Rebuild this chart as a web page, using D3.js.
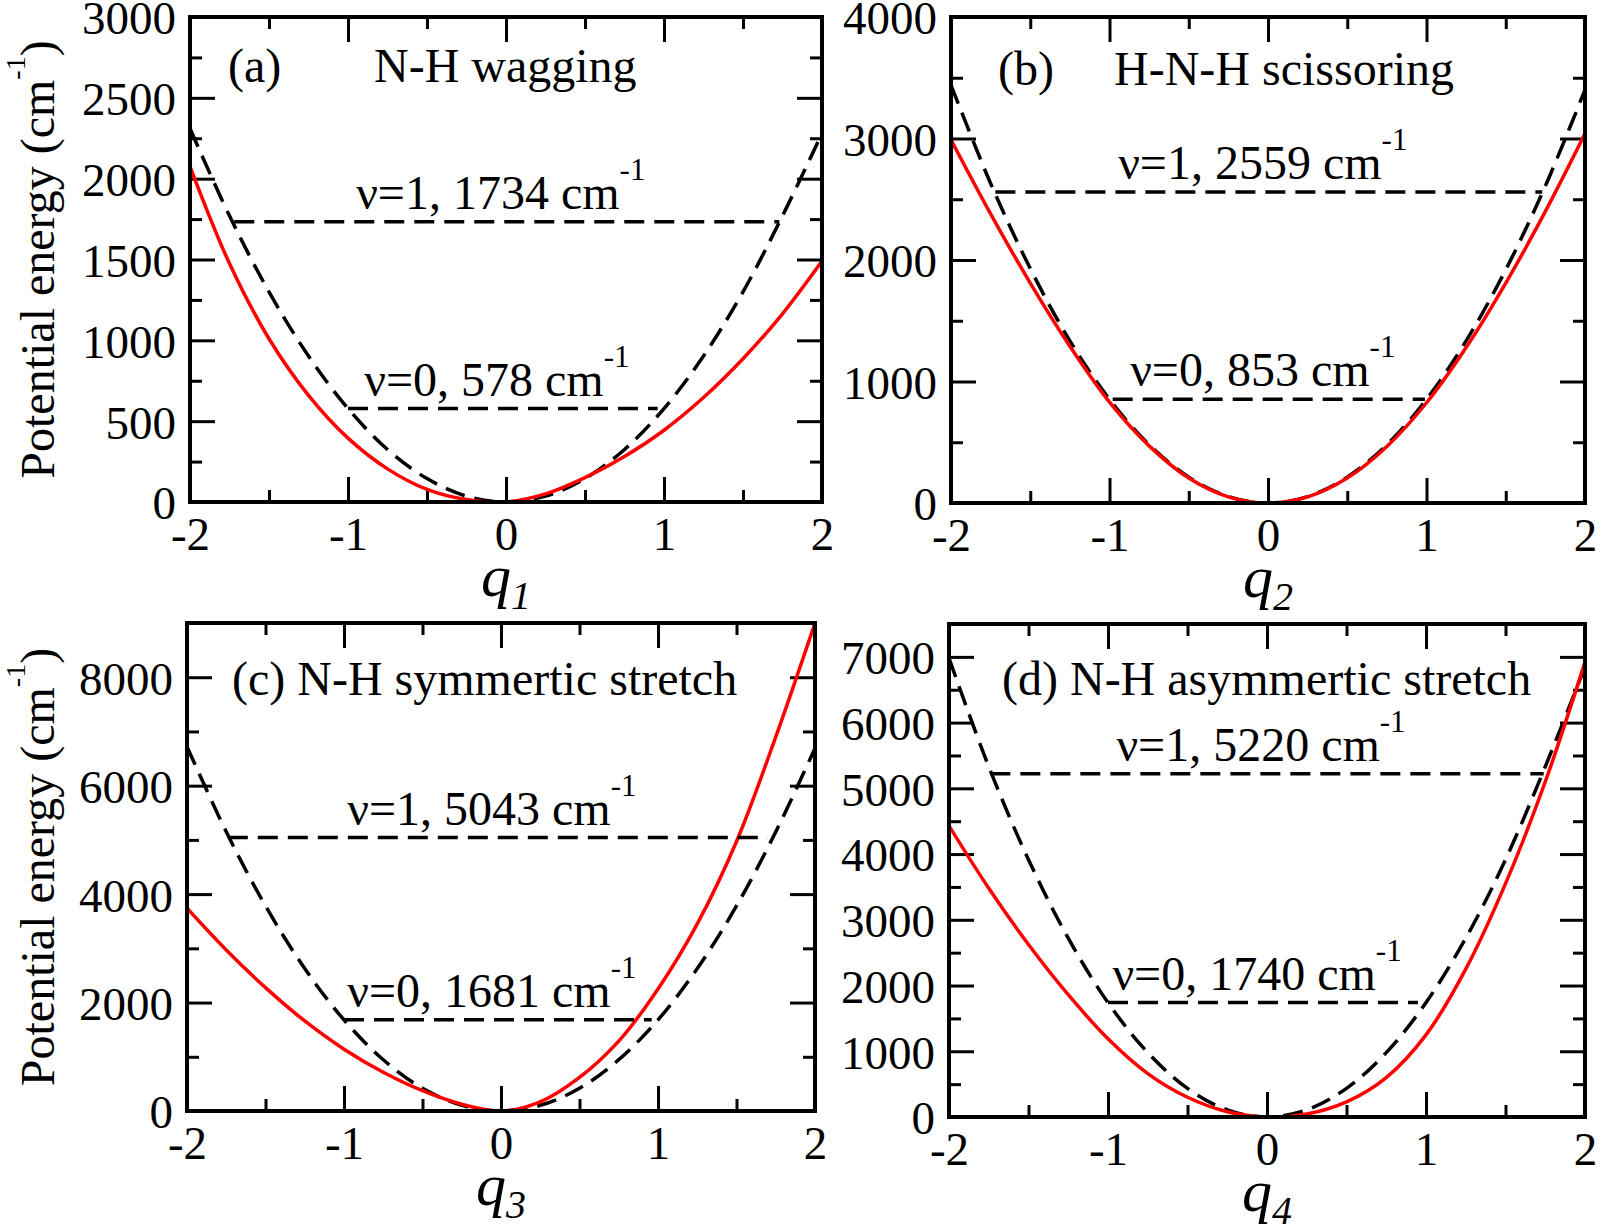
<!DOCTYPE html>
<html>
<head>
<meta charset="utf-8">
<script src="https://cdn.jsdelivr.net/npm/d3@7"></script>
<style>
  body { margin: 0; background: #fff; }
  svg text { font-family: "Liberation Serif", "Times New Roman", serif; fill: #000; }
</style>
</head>
<body>
<div id="chart"></div>
<script>
// normal coordinate samples (shared by all four panels)
const qGrid = [-2, -1.75, -1.5, -1.25, -1, -0.75, -0.5, -0.25, 0, 0.25, 0.5, 0.75, 1, 1.25, 1.5, 1.75, 2];

// potential curves (cm^-1): red = computed, harm = harmonic (dashed)
const redA  = [2075, 1475, 1010, 660, 395, 205, 78, 15, 0, 50, 151, 282, 444, 646, 886, 1164, 1490];
const harmA = [2310, 1770, 1300, 903, 578, 325, 145, 36, 0, 36, 145, 325, 578, 903, 1300, 1770, 2280];
const redB  = [2990, 2380, 1810, 1290, 830, 470, 205, 50, 0, 50, 205, 465, 825, 1280, 1810, 2400, 3040];
const harmB = [3440, 2630, 1930, 1335, 853, 480, 213, 53, 0, 53, 213, 480, 853, 1335, 1920, 2610, 3400];
const redC  = [3740, 2970, 2275, 1660, 1140, 715, 374, 125, 0, 170, 620, 1290, 2250, 3450, 4970, 6900, 9000];
const harmC = [6720, 5150, 3782, 2627, 1681, 946, 420, 105, 0, 105, 420, 946, 1681, 2627, 3782, 5148, 6690];
const redD  = [4430, 3480, 2625, 1860, 1190, 660, 300, 80, 0, 45, 230, 600, 1250, 2250, 3550, 5100, 6920];
const harmD = [6980, 5330, 3915, 2720, 1740, 980, 435, 109, 0, 109, 435, 980, 1740, 2720, 3915, 5330, 6850];

// vibrational levels: [v, energy, q start, q end]
const levelsA = [[0, 578, -1.0, 0.96], [1, 1734, -1.72, 1.73]];
const levelsB = [[0, 853, -0.98, 0.99], [1, 2559, -1.72, 1.73]];
const levelsC = [[0, 1681, -1.0, 0.96], [1, 5043, -1.74, 1.70]];
const levelsD = [[0, 1740, -1.0, 0.95], [1, 5220, -1.74, 1.74]];

const panelIds  = ["(a)", "(b)", "(c)", "(d)"];
const modeNames = ["N-H wagging", "H-N-H scissoring", "N-H symmertic stretch", "N-H asymmertic stretch"];
const yMax   = [3000, 4000, 9000, 7500];
const yMajor = [500, 1000, 2000, 1000];
const yMinor = [250, 500, 1000, 500];
const xMajor = [-2, -1, 0, 1, 2];
const xMinor = [-1.5, -0.5, 0.5, 1.5];

const reds  = [redA, redB, redC, redD];
const harms = [harmA, harmB, harmC, harmD];
const levels = [levelsA, levelsB, levelsC, levelsD];

// layout of the four frames
const boxes = [
  { l: 190, r: 822,  t: 17,  b: 502,  idX: 38, nameX: 184, textY: 65, ytitle: true },
  { l: 951, r: 1585, t: 17,  b: 503,  idX: 47, nameX: 163, textY: 68, ytitle: false },
  { l: 187, r: 815,  t: 623, b: 1111, idX: 45, nameX: null, textY: 72, ytitle: true },
  { l: 949, r: 1585, t: 624, b: 1117, idX: 53, nameX: null, textY: 71, ytitle: false }
];

const W = 1600, H = 1225;
const svg = d3.select("#chart").append("svg")
  .attr("width", W)
  .attr("height", H);

svg.append("rect").attr("width", W).attr("height", H).attr("fill", "#fff");

const font = '"Liberation Serif", "Times New Roman", serif';

function styleAxis(sel) {
  sel.select(".domain").remove();
  sel.selectAll(".tick line").attr("stroke", "#000").attr("stroke-width", 3);
  sel.selectAll("text")
    .attr("font-family", font)
    .attr("font-size", 47)
    .attr("fill", "#000");
}

boxes.forEach((bx, i) => {
  const x = d3.scaleLinear().domain([-2, 2]).range([bx.l, bx.r]);
  const y = d3.scaleLinear().domain([0, yMax[i]]).range([bx.b, bx.t]);
  const g = svg.append("g");

  g.append("clipPath").attr("id", "clip" + i)
    .append("rect")
    .attr("x", bx.l).attr("y", bx.t)
    .attr("width", bx.r - bx.l).attr("height", bx.b - bx.t);

  const yMaj = d3.range(0, yMax[i] + 1, yMajor[i]);
  const yMin = d3.range(0, yMax[i] + 1, yMinor[i]).filter(v => v % yMajor[i] !== 0);

  // axes (ticks point inward on all four sides)
  g.append("g").attr("transform", `translate(0,${bx.b})`)
    .call(d3.axisBottom(x).tickValues(xMajor).tickSize(-25).tickPadding(15).tickFormat(d => String(d)))
    .call(styleAxis);
  g.append("g").attr("transform", `translate(0,${bx.b})`)
    .call(d3.axisBottom(x).tickValues(xMinor).tickSize(-12).tickFormat(""))
    .call(styleAxis);
  g.append("g").attr("transform", `translate(0,${bx.t})`)
    .call(d3.axisTop(x).tickValues(xMajor).tickSize(-25).tickFormat(""))
    .call(styleAxis);
  g.append("g").attr("transform", `translate(0,${bx.t})`)
    .call(d3.axisTop(x).tickValues(xMinor).tickSize(-12).tickFormat(""))
    .call(styleAxis);

  g.append("g").attr("transform", `translate(${bx.l},0)`)
    .call(d3.axisLeft(y).tickValues(yMaj).tickSize(-25).tickPadding(14).tickFormat(d => String(d)))
    .call(styleAxis)
    .call(a => a.selectAll("text").attr("dy", "0.36em"));
  g.append("g").attr("transform", `translate(${bx.l},0)`)
    .call(d3.axisLeft(y).tickValues(yMin).tickSize(-12).tickFormat(""))
    .call(styleAxis);
  g.append("g").attr("transform", `translate(${bx.r},0)`)
    .call(d3.axisRight(y).tickValues(yMaj).tickSize(-25).tickFormat(""))
    .call(styleAxis);
  g.append("g").attr("transform", `translate(${bx.r},0)`)
    .call(d3.axisRight(y).tickValues(yMin).tickSize(-12).tickFormat(""))
    .call(styleAxis);

  // curves
  const line = d3.line()
    .x((d, j) => x(qGrid[j]))
    .y(d => y(d))
    .curve(d3.curveCatmullRom.alpha(0.5));

  g.append("path")
    .datum(harms[i])
    .attr("d", line)
    .attr("fill", "none")
    .attr("stroke", "#000")
    .attr("stroke-width", 3.5)
    .attr("stroke-dasharray", "20,10")
    .attr("clip-path", `url(#clip${i})`);

  g.append("path")
    .datum(reds[i])
    .attr("d", line)
    .attr("fill", "none")
    .attr("stroke", "#ff0000")
    .attr("stroke-width", 3.5)
    .attr("clip-path", `url(#clip${i})`);

  // vibrational levels
  levels[i].forEach(lv => {
    g.append("line")
      .attr("x1", x(lv[2])).attr("x2", x(lv[3]))
      .attr("y1", y(lv[1])).attr("y2", y(lv[1]))
      .attr("stroke", "#000")
      .attr("stroke-width", 3.5)
      .attr("stroke-dasharray", "20,10");

    const t = g.append("text")
      .attr("x", (x(lv[2]) + x(lv[3])) / 2 - 6)
      .attr("y", y(lv[1]) - 13)
      .attr("text-anchor", "middle")
      .attr("font-size", 48);
    t.append("tspan").text(`ν=${lv[0]}, ${lv[1]} cm`);
    t.append("tspan").attr("font-size", 31).attr("dy", -29).text("-1");
  });

  // panel label and mode name
  if (bx.nameX !== null) {
    g.append("text").attr("x", bx.l + bx.idX).attr("y", bx.t + bx.textY)
      .attr("font-size", 48).text(panelIds[i]);
    g.append("text").attr("x", bx.l + bx.nameX).attr("y", bx.t + bx.textY)
      .attr("font-size", 48).text(modeNames[i]);
  } else {
    g.append("text").attr("x", bx.l + bx.idX).attr("y", bx.t + bx.textY)
      .attr("font-size", 48).text(`${panelIds[i]} ${modeNames[i]}`);
  }

  // frame
  g.append("rect")
    .attr("x", bx.l).attr("y", bx.t)
    .attr("width", bx.r - bx.l).attr("height", bx.b - bx.t)
    .attr("fill", "none")
    .attr("stroke", "#000")
    .attr("stroke-width", 4);

  // x title
  const xt = g.append("text")
    .attr("x", (bx.l + bx.r) / 2)
    .attr("y", bx.b + 94)
    .attr("text-anchor", "middle")
    .attr("font-style", "italic");
  xt.append("tspan").attr("font-size", 60).text("q");
  xt.append("tspan").attr("font-size", 40).attr("dy", 13).text(String(i + 1));

  // y title
  if (bx.ytitle) {
    const yt = g.append("text")
      .attr("transform", `translate(54,${(bx.t + bx.b) / 2}) rotate(-90)`)
      .attr("text-anchor", "middle")
      .attr("font-size", 48);
    yt.append("tspan").text("Potential energy (cm");
    yt.append("tspan").attr("font-size", 28).attr("dy", -29).text("-1");
    yt.append("tspan").attr("dy", 29).text(")");
  }
});
</script>
</body>
</html>
